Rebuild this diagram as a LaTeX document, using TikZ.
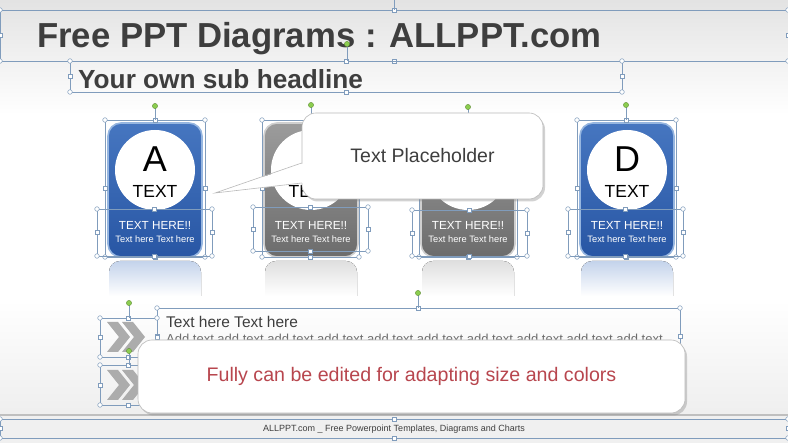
\documentclass[tikz,border=0pt]{standalone}
\usepackage{fontspec}
\setmainfont{Liberation Sans}
\usetikzlibrary{shadows,calc}

\definecolor{hdl}{RGB}{128,156,188}
\definecolor{rotgreen}{RGB}{140,205,80}
\definecolor{cardblue}{RGB}{70,118,192}
\definecolor{cardblueb}{RGB}{40,86,164}
\definecolor{cardbluer}{RGB}{150,182,224}
\definecolor{cardgray}{RGB}{156,156,156}
\definecolor{cardgrayb}{RGB}{108,108,108}
\definecolor{cardgrayr}{RGB}{208,208,208}
\definecolor{inkdark}{RGB}{62,62,62}
\definecolor{notered}{RGB}{184,70,78}

\newcommand\selframe[4]{%
  \draw[selline] (#1,#2) rectangle (#3,#4);
  \foreach \hx in {#1,#3} \foreach \hy in {#2,#4} \filldraw[handle] (\hx,\hy) circle (2.3pt);
  \filldraw[handle] ($(#1,#2)!.5!(#3,#2)$) ++(-1.8,-1.8) rectangle ++(3.6,3.6);
  \filldraw[handle] ($(#1,#4)!.5!(#3,#4)$) ++(-1.8,-1.8) rectangle ++(3.6,3.6);
  \filldraw[handle] ($(#1,#2)!.5!(#1,#4)$) ++(-1.8,-1.8) rectangle ++(3.6,3.6);
  \filldraw[handle] ($(#3,#2)!.5!(#3,#4)$) ++(-1.8,-1.8) rectangle ++(3.6,3.6);
}
\newcommand\rothandle[3]{%
  \draw[selline] (#1,#2) -- (#1,#3);
  \filldraw[fill=rotgreen, draw=rotgreen!70!black, line width=0.4pt] (#1,#2) circle (2.6pt);
}

\begin{document}
\begin{tikzpicture}[x=1pt, y=-1pt,
    selline/.style={draw=hdl, line width=0.6pt},
    handle/.style={fill=white, draw=hdl, line width=0.5pt},
    headline/.style={anchor=base west, inner sep=0, text=inkdark, font=\fontsize{34.7}{38}\selectfont\bfseries},
    subline/.style={anchor=base west, inner sep=0, text=inkdark, font=\fontsize{26.2}{29}\selectfont\bfseries},
    card/.style={rectangle, rounded corners=13pt, minimum width=94pt, minimum height=134pt, line width=1.6pt},
    disc/.style={circle, fill=white, minimum size=80pt, inner sep=0},
    bigletter/.style={anchor=base, inner sep=0, font=\fontsize{36}{40}\selectfont},
    cardcap/.style={anchor=base, inner sep=0, font=\fontsize{17.5}{20}\selectfont},
    heretxt/.style={anchor=base, inner sep=0, text=white, font=\fontsize{11.7}{13}\selectfont},
    smalltxt/.style={anchor=base, inner sep=0, text=white, font=\fontsize{9.3}{11}\selectfont},
    bubble/.style={rectangle, rounded corners=14pt, fill=white, draw=gray!55, line width=0.6pt,
      drop shadow={opacity=0.35, shadow xshift=2pt, shadow yshift=-2.5pt}},
    chev/.style={fill=gray!65}]
\useasboundingbox (0,0) rectangle (788,443);

% background
\fill[top color=gray!22, bottom color=white] (0,0) rectangle (788,115);
\fill[white] (0,115) rectangle (788,300);
\fill[top color=white, bottom color=gray!13] (0,300) rectangle (788,415);
\fill[gray!12] (0,415) rectangle (788,443);
\draw[gray!50, line width=1.4pt] (0,415) -- (788,415);

\node[headline] (title) at (37,48) {Free PPT Diagrams : ALLPPT.com};
\node[subline] (subtitle) at (78,89) {Your own sub headline};

% cards
\foreach \cx/\nm/\lt/\cp/\cl in {155/a/A/TEXT/blue, 311/b//TEXT/gray, 468/c///gray, 627/d/D/TEXT/blue} {
  \fill[top color=card\cl!32, bottom color=white] (\cx-46,296) [rounded corners=11pt] -- (\cx-46,261)
    -- (\cx+46,261) [sharp corners] -- (\cx+46,296) -- cycle;
  \node[card, top color=card\cl, bottom color=card\cl b, draw=card\cl r] (card-\nm) at (\cx,190) {};
  \node[disc] (disc-\nm) at (\cx,170) {};
  \node[bigletter] (let-\nm) at (\cx,172) {\lt};
  \node[cardcap] (cap-\nm) at (\cx,198) {\cp};
  \node[heretxt] (here-\nm) at (\cx,230) {TEXT HERE!!};
  \node[smalltxt] (small-\nm) at (\cx,243) {Text here Text here};
}
\selframe{105}{120}{205}{257}
\selframe{97}{209}{212}{256}
\rothandle{155}{106}{120}
\selframe{262}{120}{359}{257}
\selframe{253}{207}{368}{251}
\rothandle{311}{105}{120}
\selframe{419}{120}{517}{257}
\selframe{412}{210}{527}{256}
\rothandle{468}{107}{120}
\selframe{577}{120}{676}{257}
\selframe{568}{209}{683}{256}
\rothandle{626}{105}{120}

% callout
\node[bubble, minimum width=241pt, minimum height=86pt, text=inkdark,
  font=\fontsize{19.5}{22}\selectfont] (ph) at (422.5,156) {Text Placeholder};
\coordinate (tip) at (215,193);
\fill[white] ([xshift=3pt,yshift=-7pt]ph.west) -- (tip) -- ([xshift=3pt,yshift=-27pt]ph.west) -- cycle;
\draw[gray!55, line width=0.6pt] ([yshift=-7pt]ph.west) -- (tip) -- ([yshift=-27pt]ph.west);

% lower part
\foreach \cy in {322,370} {
  \fill[chev] (107,\cy) -- (118,\cy) -- (130,\cy+15) -- (118,\cy+30) -- (107,\cy+30) -- (119,\cy+15) -- cycle;
  \fill[chev] (122,\cy) -- (133,\cy) -- (145,\cy+15) -- (133,\cy+30) -- (122,\cy+30) -- (134,\cy+15) -- cycle;
}
\node[anchor=base west, inner sep=0, text=inkdark, font=\fontsize{15.5}{18}\selectfont] (head) at (166,328) {Text here Text here};
\node[anchor=base west, inner sep=0, text=gray!85!black, font=\fontsize{13}{15}\selectfont] (body) at (166,344)
  {Add text add text add text add text add text add text add text add text add text add text};
\selframe{157}{308}{680}{364}
\rothandle{418}{293}{308}
\selframe{100}{318}{157}{357}
\rothandle{129}{303}{318}
\selframe{100}{365}{157}{405}
\rothandle{129}{351}{365}

\node[bubble, minimum width=547pt, minimum height=73pt, text=notered,
  font=\fontsize{19.6}{22}\selectfont] (note) at (411.5,376.5) {Fully can be edited for adapting size and colors};

% frames on top
\selframe{0}{10}{788}{61}
\draw[selline] (394,0) -- (394,10);
\selframe{70}{61}{622}{92}
\rothandle{347}{44}{61}
\selframe{0}{419}{788}{438}
\node[inner sep=0, text=inkdark, font=\fontsize{9}{11}\selectfont] (footer) at (394,429)
  {ALLPPT.com \_ Free Powerpoint Templates, Diagrams and Charts};
\end{tikzpicture}
\end{document}
